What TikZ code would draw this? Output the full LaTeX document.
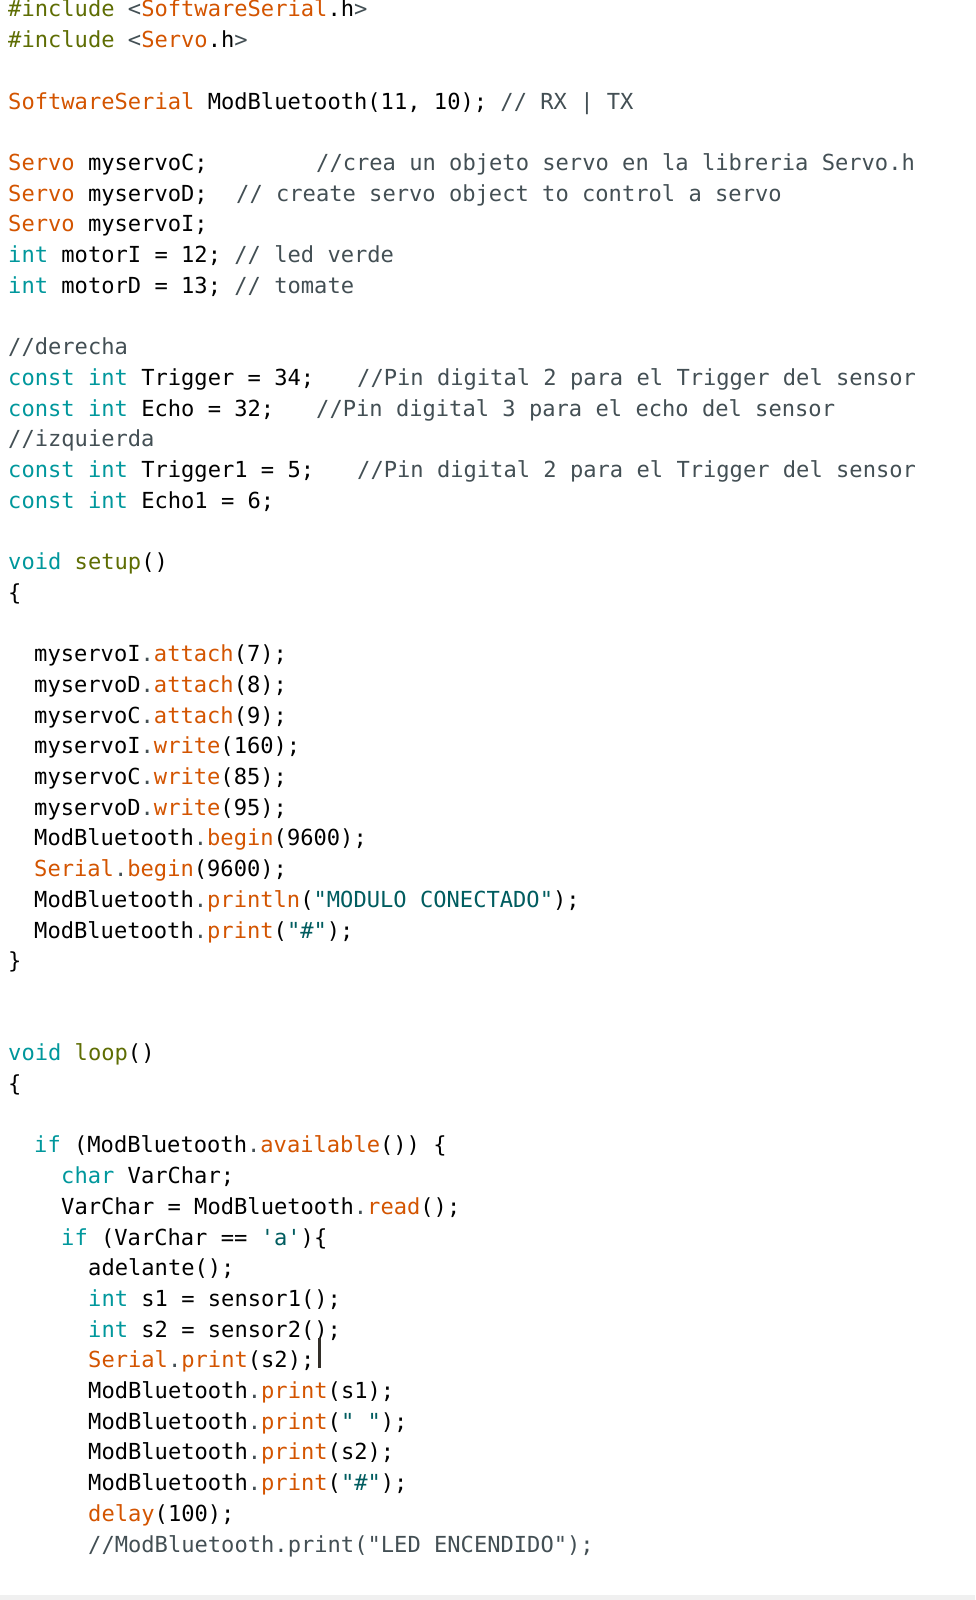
\documentclass[tikz,border=0pt]{standalone}
\usepackage{fontspec}
\setmonofont{DejaVu Sans Mono}
\usepackage{xcolor}
\definecolor{kwor}{HTML}{D35400}
\definecolor{tyte}{HTML}{00979C}
\definecolor{cmgr}{HTML}{434F54}
\definecolor{ppol}{HTML}{5E6D03}
\definecolor{strt}{HTML}{005C5F}
\newcommand{\kw}[1]{\textcolor{kwor}{#1}}
\newcommand{\ty}[1]{\textcolor{tyte}{#1}}
\newcommand{\cm}[1]{\textcolor{cmgr}{#1}}
\newcommand{\pp}[1]{\textcolor{ppol}{#1}}
\newcommand{\st}[1]{\textcolor{strt}{#1}}
\newcommand{\dt}{\textcolor{cmgr}{.}}
\begin{document}
\begin{tikzpicture}[x=1pt,y=1pt,
  ln/.style={anchor=base west,inner sep=0pt,font=\ttfamily\fontsize{22.1}{26}\selectfont}]
\useasboundingbox (0,0) rectangle (975,-1600);
\begin{scope}
\clip (0,0) rectangle (975,-1600);
\fill[gray!12] (0,-1595) rectangle (975,-1600);
\def\L#1#2#3{\node[ln] (n#1x#2) at (#2,{-(17+30.7*#1)}) {#3};}
\L{0}{8}{\pp{\#include} \cm{<}\kw{SoftwareSerial}.h\cm{>}}
\L{1}{8}{\pp{\#include} \cm{<}\kw{Servo}.h\cm{>}}
\L{3}{8}{\kw{SoftwareSerial} ModBluetooth(11, 10); \cm{// RX | TX}}
\L{5}{8}{\kw{Servo} myservoC;}
\L{5}{316}{\cm{//crea un objeto servo en la libreria Servo.h}}
\L{6}{8}{\kw{Servo} myservoD;}
\L{6}{236}{\cm{// create servo object to control a servo}}
\L{7}{8}{\kw{Servo} myservoI;}
\L{8}{8}{\ty{int} motorI = 12; \cm{// led verde}}
\L{9}{8}{\ty{int} motorD = 13; \cm{// tomate}}
\L{11}{8}{\cm{//derecha}}
\L{12}{8}{\ty{const} \ty{int} Trigger = 34;}
\L{12}{357}{\cm{//Pin digital 2 para el Trigger del sensor}}
\L{13}{8}{\ty{const} \ty{int} Echo = 32;}
\L{13}{316}{\cm{//Pin digital 3 para el echo del sensor}}
\L{14}{8}{\cm{//izquierda}}
\L{15}{8}{\ty{const} \ty{int} Trigger1 = 5;}
\L{15}{357}{\cm{//Pin digital 2 para el Trigger del sensor}}
\L{16}{8}{\ty{const} \ty{int} Echo1 = 6;}
\L{18}{8}{\ty{void} \pp{setup}()}
\L{19}{8}{\{}
\L{21}{34}{myservoI\dt\kw{attach}(7);}
\L{22}{34}{myservoD\dt\kw{attach}(8);}
\L{23}{34}{myservoC\dt\kw{attach}(9);}
\L{24}{34}{myservoI\dt\kw{write}(160);}
\L{25}{34}{myservoC\dt\kw{write}(85);}
\L{26}{34}{myservoD\dt\kw{write}(95);}
\L{27}{34}{ModBluetooth\dt\kw{begin}(9600);}
\L{28}{34}{\kw{Serial}\dt\kw{begin}(9600);}
\L{29}{34}{ModBluetooth\dt\kw{println}(\st{"MODULO CONECTADO"});}
\L{30}{34}{ModBluetooth\dt\kw{print}(\st{"\#"});}
\L{31}{8}{\}}
\L{34}{8}{\ty{void} \pp{loop}()}
\L{35}{8}{\{}
\L{37}{34}{\ty{if} (ModBluetooth\dt\kw{available}()) \{}
\L{38}{61}{\ty{char} VarChar;}
\L{39}{61}{VarChar = ModBluetooth\dt\kw{read}();}
\L{40}{61}{\ty{if} (VarChar == \st{'a'})\{}
\L{41}{88}{adelante();}
\L{42}{88}{\ty{int} s1 = sensor1();}
\L{43}{88}{\ty{int} s2 = sensor2();}
\L{44}{88}{\kw{Serial}\dt\kw{print}(s2);}
\L{45}{88}{ModBluetooth\dt\kw{print}(s1);}
\L{46}{88}{ModBluetooth\dt\kw{print}(\st{" "});}
\L{47}{88}{ModBluetooth\dt\kw{print}(s2);}
\L{48}{88}{ModBluetooth\dt\kw{print}(\st{"\#"});}
\L{49}{88}{\kw{delay}(100);}
\L{50}{88}{\cm{//ModBluetooth.print("LED ENCENDIDO");}}
\fill[black!85!olive] (n44x88.east) ++(3,-6) rectangle ++(3,30);
\end{scope}
\end{tikzpicture}
\end{document}
